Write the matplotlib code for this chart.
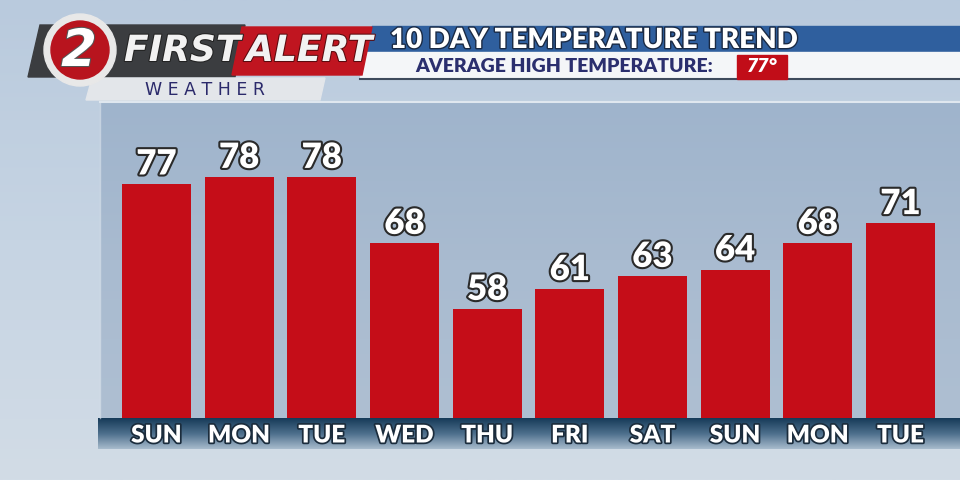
import numpy as np
import matplotlib
matplotlib.use("Agg")
import matplotlib.pyplot as plt
import matplotlib.patheffects as pe
from matplotlib.patches import Polygon, Circle, Rectangle

# chart data
days = ["SUN", "MON", "TUE", "WED", "THU", "FRI", "SAT", "SUN", "MON", "TUE"]
highs = [77, 78, 78, 68, 58, 61, 63, 64, 68, 71]
avg_high = 77
title = "10 DAY TEMPERATURE TREND"
subtitle = "AVERAGE HIGH TEMPERATURE:"

W, H = 960, 480
fig = plt.figure(figsize=(9.6, 4.8), dpi=100)

# background sky (whole figure)
bg = fig.add_axes([0, 0, 1, 1])
bg.set_xlim(0, W)
bg.set_ylim(H, 0)
bg.axis("off")
grad = np.linspace(0, 1, 256).reshape(-1, 1)
sky = matplotlib.colors.LinearSegmentedColormap.from_list(
    "sky", ["#b9cadd", "#c6d4e3", "#d2dce6"])
bg.imshow(grad, cmap=sky, extent=[0, W, H, 0], aspect="auto", zorder=0)

# panel behind bars
panel = matplotlib.colors.LinearSegmentedColormap.from_list(
    "panel", ["#9fb4cc", "#a9bbd0", "#aebfd2"])
bg.imshow(grad, cmap=panel, extent=[100, W, 418, 102], aspect="auto", zorder=1)
bg.plot([100, W], [102, 102], color="#dfe7ef", lw=1.5, zorder=2)
bg.plot([100, 100], [102, 418], color="#dfe7ef", lw=1, alpha=0.6, zorder=2)

# bottom band
band = matplotlib.colors.LinearSegmentedColormap.from_list(
    "band", ["#163a58", "#4d6f8c", "#a8bccd"])
bg.imshow(grad, cmap=band, extent=[98, W, 449, 418], aspect="auto", zorder=1)

# bars
ax = fig.add_axes([100 / W, 1 - 418 / H, 860 / W, 316 / H])
ax.patch.set_alpha(0)
x = np.arange(len(highs))
ax.bar(x, highs, width=0.835, color="#c50d18", edgecolor="none", zorder=3)
ax.set_xlim(-0.683, 9.72)
ax.set_ylim(41.5, 89.4)
ax.axis("off")

outline = [pe.withStroke(linewidth=3, foreground="#2a2a2a")]
for xi, v in zip(x, highs):
    ax.text(xi, v + 0.5, str(v), ha="center", va="bottom", color="white",
            fontsize=25, fontweight="heavy", family="Lato", path_effects=outline,
            zorder=4)

for xi, d in zip(x, days):
    ax.text(xi, 41.5 - 2.65, d, ha="center", va="center", color="white",
            fontsize=17.5, fontweight="heavy", family="Lato",
            path_effects=[pe.withStroke(linewidth=2.5, foreground="#1b2c3c")],
            clip_on=False, zorder=4)

# header overlay
hd = fig.add_axes([0, 0, 1, 1])
hd.set_xlim(0, W)
hd.set_ylim(H, 0)
hd.axis("off")
hd.patch.set_alpha(0)

# title banner
hd.add_patch(Polygon([[372, 26], [W, 26], [W, 52], [366, 52]],
                     closed=True, color="#2f5f9e", zorder=2))
hd.add_patch(Polygon([[366, 52], [W, 52], [W, 78], [360, 78]],
                     closed=True, color="#f4f6f8", zorder=2))
hd.plot([360, W], [79, 79], color="#3d4a5c", lw=1.5, zorder=2)
hd.text(390, 40, title, ha="left", va="center", color="white", fontsize=20,
        fontweight="heavy", family="Lato",
        path_effects=[pe.withStroke(linewidth=2, foreground="#1a2a44")], zorder=3)
hd.text(415, 66, subtitle, ha="left", va="center", color="#2b2f6e", fontsize=14,
        fontweight="heavy", family="Lato", zorder=3)
hd.add_patch(Rectangle((737, 55), 50, 24, color="#c10d18", zorder=3))
hd.text(762, 67, f"{avg_high}°", ha="center", va="center", color="white",
        fontsize=14, fontweight="heavy", style="italic", family="Lato", zorder=4)

# logo bars
hd.add_patch(Polygon([[40, 25], [245, 25], [235, 77], [28, 77]],
                     closed=True, color="#3b3d40", zorder=2))
hd.add_patch(Polygon([[242, 27], [372, 27], [362, 75], [232, 75]],
                     closed=True, color="#c01520", zorder=3))
hd.add_patch(Polygon([[92, 78], [325, 78], [320, 100], [86, 100]],
                     closed=True, color="#e3e6ea", zorder=2))
hd.text(205, 90, "W E A T H E R", ha="center", va="center", color="#2b2a6b",
        fontsize=12.5, family="DejaVu Sans", zorder=3)
hd.text(124, 51, "FIRST", ha="left", va="center", color="#f2f2f2", fontsize=26,
        fontweight="bold", style="italic", family="Liberation Sans Narrow",
        path_effects=[pe.withStroke(linewidth=1.5, foreground="#222")], zorder=4)
hd.text(246, 51, "ALERT", ha="left", va="center", color="#f2f2f2", fontsize=26,
        fontweight="bold", style="italic", family="Liberation Sans Narrow",
        path_effects=[pe.withStroke(linewidth=1.5, foreground="#5a0a0e")], zorder=4)

# circle "2"
hd.add_patch(Circle((80, 50), 36, color="#e8e8e8", zorder=5))
hd.add_patch(Circle((80, 50), 29, color="#b8141e", zorder=6))
hd.text(79, 52, "2", ha="center", va="center", color="white", fontsize=37,
        fontweight="bold", style="italic", family="DejaVu Sans",
        path_effects=[pe.withStroke(linewidth=1.5, foreground="#555")], zorder=7)

fig.savefig("out.png", dpi=100)
